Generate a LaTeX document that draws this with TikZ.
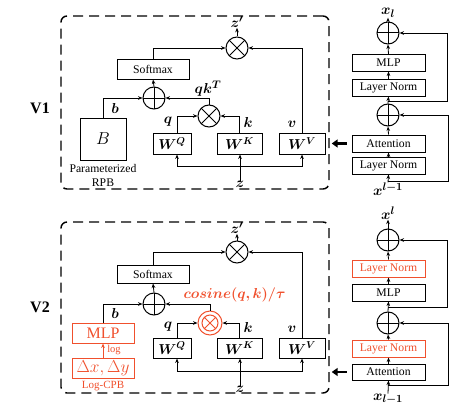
\documentclass[tikz,border=0pt]{standalone}
\usepackage{fontspec}
\setmainfont{Liberation Serif}
\usepackage{amsmath,bm}
\usetikzlibrary{arrows.meta,calc}
\definecolor{myred}{RGB}{240,80,45}
\begin{document}
\begin{tikzpicture}[x=1pt,y=-1pt,
  arr/.style={line width=0.8pt,-{Stealth[length=4.5pt,width=3.6pt]}},
  box/.style={draw,line width=1pt,inner sep=0pt,font=\fontsize{11.7}{13}\selectfont},
  wbox/.style={box,minimum height=21pt,font=\fontsize{14}{16}\selectfont},
  cbox/.style={box,minimum width=73pt,minimum height=17pt},
  rbox/.style={box,draw=myred,text=myred},
  lab/.style={inner sep=0pt,font=\fontsize{15}{17}\selectfont},
  txt/.style={inner sep=0pt,font=\fontsize{11.7}{13}\selectfont},
  vlab/.style={inner sep=0pt,font=\fontsize{16}{18}\selectfont\bfseries},
  dbox/.style={draw,line width=1.4pt,dash pattern=on 10pt off 6pt,rounded corners=6pt,inner sep=0pt},
  bigarr/.style={line width=2.4pt,-{Triangle[length=6pt,width=8pt]},shorten >=2pt},
  opplus/.style={circle,draw,line width=1pt,minimum size=22pt,inner sep=0pt,
    path picture={\draw[line width=1pt] (path picture bounding box.north) -- (path picture bounding box.south)
      (path picture bounding box.west) -- (path picture bounding box.east);}},
  optimes/.style={circle,draw,line width=1pt,minimum size=22pt,inner sep=0pt,
    path picture={\draw[line width=1pt] (path picture bounding box.north west) -- (path picture bounding box.south east)
      (path picture bounding box.north east) -- (path picture bounding box.south west);}},
  rtimes/.style={circle,draw=myred,line width=1pt,minimum size=24pt,inner sep=0pt,
    path picture={\draw[myred,line width=1pt] (path picture bounding box.center) circle[radius=8pt]
      ($(path picture bounding box.center)+(-5.7pt,-5.7pt)$) -- ($(path picture bounding box.center)+(5.7pt,5.7pt)$)
      ($(path picture bounding box.center)+(-5.7pt,5.7pt)$) -- ($(path picture bounding box.center)+(5.7pt,-5.7pt)$);}}
]
\useasboundingbox (0,0) rectangle (468,412);

% ================= V1 =================
\node[dbox,minimum width=268pt,minimum height=173pt] (d1) at (195,102.5) {};
\node[vlab] (v1) at (40,108) {V1};

\node[box,minimum width=72pt,minimum height=19pt] (sm1) at (153,69.5) {Softmax};
\node[opplus] (pl1) at (154,98) {};
\node[optimes] (tm1) at (209,116) {};
\node[optimes] (tz1) at (237,48) {};
\node[box,minimum width=46pt,minimum height=42pt,font=\fontsize{16}{18}\selectfont] (B1) at (103,139) {$B$};
\node[txt,align=center] (rpb1) at (103,175) {Parameterized\\[1pt]RPB};
\node[wbox,minimum width=38pt] (wq1) at (172,143.5) {$\bm{W^Q}$};
\node[wbox,minimum width=45pt] (wk1) at (239.5,143.5) {$\bm{W^K}$};
\node[wbox,minimum width=46pt] (wv1) at (302,143.5) {$\bm{W^V}$};
\node[lab] (zp1) at (237,22) {$\bm{z'}$};
\node[lab] (z1) at (240,184) {$\bm{z}$};
\node[lab] (b1) at (115,108) {$\bm{b}$};
\node[lab] (qk1) at (208,89) {$\bm{qk^T}$};
\node[lab] (q1) at (168,122) {$\bm{q}$};
\node[lab] (k1) at (248,122) {$\bm{k}$};
\node[lab] (vv1) at (292,124) {$\bm{v}$};
\coordinate (h1) at (240,166);

\draw[arr] (sm1.north) |- (tz1.west);
\draw[arr] (wv1.north) |- (tz1.east);
\draw[arr] (tz1.north) -- (zp1.south);
\draw[arr] (pl1.north) -- (sm1.south);
\draw[arr] (tm1.north) |- (pl1.east);
\draw[arr] (B1.north) |- (pl1.west);
\draw[arr] ([xshift=5pt]wq1.north) |- (tm1.west);
\draw[arr] (wk1.north) |- (tm1.east);
\draw[arr] (z1.north) -- (z1.north |- wk1.south);
\draw[arr] (h1) -| ([xshift=5pt]wq1.south);
\draw[arr] (h1) -| (wv1.south);

% right column V1
\node[lab] (xl1) at (388,13) {$\bm{x_l}$};
\node[opplus] (plT1) at (388,33) {};
\node[cbox,minimum height=16pt] (mlp1) at (388.5,63) {MLP};
\node[cbox] (ln1a) at (388.5,87.5) {Layer Norm};
\node[opplus] (plM1) at (388,115) {};
\node[cbox] (att1) at (388.5,143.5) {Attention};
\node[cbox] (ln1b) at (388.5,165.5) {Layer Norm};
\node[lab] (xin1) at (388,189) {$\bm{x^{l-1}}$};
\coordinate (r1) at (388,101);
\coordinate (c1) at (447,101);
\coordinate (r2) at (388,181);
\coordinate (c2) at (448,181);

\draw[arr] (xin1.north) -- (ln1b.south);
\draw[arr] (ln1b.north) -- (att1.south);
\draw[arr] (att1.north) -- (plM1.south);
\draw[arr] (plM1.north) -- (ln1a.south);
\draw[arr] (ln1a.north) -- (mlp1.south);
\draw[arr] (mlp1.north) -- (plT1.south);
\draw[arr] (plT1.north) -- (xl1.south);
\draw[arr] (r1) -- (c1) |- (plT1.east);
\draw[arr] (r2) -- (c2) |- (plM1.east);
\draw[bigarr] ([xshift=-5pt]att1.west) -- (att1.west -| d1.east);

% ================= V2 =================
\node[dbox,minimum width=268pt,minimum height=171pt] (d2) at (195,307.5) {};
\node[vlab] (v2) at (40,307) {V2};

\node[box,minimum width=72pt,minimum height=18pt] (sm2) at (153,274) {Softmax};
\node[opplus] (pl2) at (154,304) {};
\node[rtimes] (tm2) at (210,323) {};
\node[optimes] (tz2) at (237,252) {};
\node[rbox,minimum width=62pt,minimum height=20pt,font=\fontsize{16}{18}\selectfont] (mlpr) at (103,333) {MLP};
\node[rbox,minimum width=62pt,minimum height=20pt,font=\fontsize{16}{18}\selectfont] (dxy) at (103,368) {$\Delta x,\Delta y$};
\node[txt,text=myred,font=\fontsize{10.5}{12}\selectfont] (log2) at (114,350) {log};
\node[txt,text=myred,font=\fontsize{11}{12}\selectfont] (cpb2) at (103,386) {Log-CPB};
\node[wbox,minimum width=38pt,minimum height=20pt] (wq2) at (172,348) {$\bm{W^Q}$};
\node[wbox,minimum width=45pt,minimum height=20pt] (wk2) at (239.5,348) {$\bm{W^K}$};
\node[wbox,minimum width=46pt,minimum height=20pt] (wv2) at (302,348) {$\bm{W^V}$};
\node[lab] (zp2) at (237,228) {$\bm{z'}$};
\node[lab] (z2) at (240,389) {$\bm{z}$};
\node[lab] (b2) at (115,313) {$\bm{b}$};
\node[lab,text=myred,font=\fontsize{13.3}{15}\selectfont] (cos2) at (234.5,295) {$\bm{cosine(q,k)/\tau}$};
\node[lab] (q2) at (168,327) {$\bm{q}$};
\node[lab] (k2) at (248,327) {$\bm{k}$};
\node[lab] (vv2) at (292,329) {$\bm{v}$};
\coordinate (h2) at (240,371);

\draw[arr] (sm2.north) |- (tz2.west);
\draw[arr] (wv2.north) |- (tz2.east);
\draw[arr] (tz2.north) -- (zp2.south);
\draw[arr] (pl2.north) -- (sm2.south);
\draw[arr] (tm2.north) |- (pl2.east);
\draw[arr] (mlpr.north) |- (pl2.west);
\draw[arr,myred] (dxy.north) -- (mlpr.south);
\draw[arr] ([xshift=5pt]wq2.north) |- (tm2.west);
\draw[arr] (wk2.north) |- (tm2.east);
\draw[arr] (z2.north) -- (z2.north |- wk2.south);
\draw[arr] (h2) -| ([xshift=5pt]wq2.south);
\draw[arr] (h2) -| (wv2.south);

% right column V2
\node[lab] (xl2) at (388,213) {$\bm{x^l}$};
\node[opplus] (plT2) at (388,240) {};
\node[cbox,draw=myred,text=myred] (ln2a) at (388.5,268.5) {Layer Norm};
\node[cbox] (mlp2) at (388.5,292.5) {MLP};
\node[opplus] (plM2) at (388,323) {};
\node[cbox,draw=myred,text=myred] (ln2b) at (388.5,348.5) {Layer Norm};
\node[cbox,minimum height=16pt] (att2) at (388.5,372) {Attention};
\node[lab] (xin2) at (388,399) {$\bm{x_{l-1}}$};
\coordinate (r3) at (388,307);
\coordinate (c3) at (447,307);
\coordinate (r4) at (388,385);
\coordinate (c4) at (448,385);

\draw[arr] (xin2.north) -- (att2.south);
\draw[arr] (att2.north) -- (ln2b.south);
\draw[arr] (ln2b.north) -- (plM2.south);
\draw[arr] (plM2.north) -- (mlp2.south);
\draw[arr] (mlp2.north) -- (ln2a.south);
\draw[arr] (ln2a.north) -- (plT2.south);
\draw[arr] (plT2.north) -- (xl2.south);
\draw[arr] (r3) -- (c3) |- (plT2.east);
\draw[arr] (r4) -- (c4) |- (plM2.east);
\draw[bigarr] ([xshift=-5pt]att2.west) -- (att2.west -| d2.east);
\end{tikzpicture}
\end{document}
